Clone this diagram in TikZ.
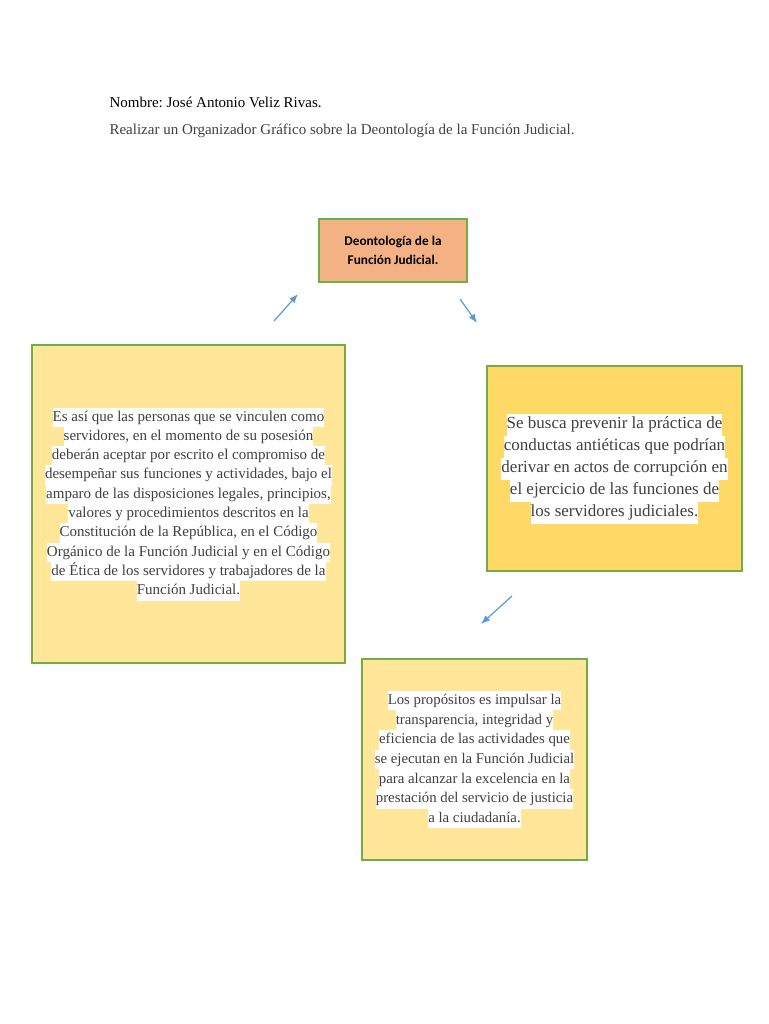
\documentclass[tikz,border=0pt]{standalone}
\usepackage{fontspec}
\setmainfont{Liberation Serif}
\newfontfamily\calibri{Carlito}
\usepackage{tikz}
\usetikzlibrary{arrows.meta}
\frenchspacing

\definecolor{boxgreen}{HTML}{70AD47}
\definecolor{salmon}{HTML}{F4B183}
\definecolor{paleyellow}{HTML}{FFE699}
\definecolor{goldyellow}{HTML}{FFD966}
\definecolor{arrowblue}{HTML}{5B9BD5}
\definecolor{textgray}{HTML}{404040}

\setlength{\fboxsep}{0pt}
\newcommand{\hl}[1]{\colorbox{white}{\strut #1}}

\tikzset{
  textbox/.style={draw=boxgreen, line width=1.4pt, rectangle, align=center,
    text=textgray, inner sep=0pt},
}

\begin{document}
\begin{tikzpicture}[>={Latex[length=9pt,width=7pt]}, x=1pt, y=-1pt]
  \useasboundingbox (0,0) rectangle (768,1024);
  \node[anchor=west, font=\fontsize{15}{18}\selectfont] (name) at (106,102) {Nombre: José Antonio Veliz Rivas.};
  \node[anchor=west, text=textgray, font=\fontsize{15}{18}\selectfont] (task) at (106,131) {Realizar un Organizador Gráfico sobre la Deontología de la Función Judicial.};
  \node[textbox, fill=salmon, minimum width=148pt, minimum height=63pt, text=black,
    font=\calibri\bfseries\fontsize{13.3}{19}\selectfont] (deonto) at (393,250.5)
    {Deontología de la\\Función Judicial.};
  \node[textbox, fill=paleyellow, minimum width=313pt, minimum height=318pt,
    font=\fontsize{15}{19.3}\selectfont] (vinculo) at (188.5,504)
    {\hl{Es así que las personas que se vinculen como}\\
     \hl{servidores, en el momento de su posesión}\\
     \hl{deberán aceptar por escrito el compromiso de}\\
     \hl{desempeñar sus funciones y actividades, bajo el}\\
     \hl{amparo de las disposiciones legales, principios,}\\
     \hl{valores y procedimientos descritos en la}\\
     \hl{Constitución de la República, en el Código}\\
     \hl{Orgánico de la Función Judicial y en el Código}\\
     \hl{de Ética de los servidores y trabajadores de la}\\
     \hl{Función Judicial.}};
  \node[textbox, fill=goldyellow, minimum width=255pt, minimum height=205pt,
    font=\fontsize{17}{22}\selectfont] (prevenir) at (614.5,468.5)
    {\hl{Se busca prevenir la práctica de}\\
     \hl{conductas antiéticas que podrían}\\
     \hl{derivar en actos de corrupción en}\\
     \hl{el ejercicio de las funciones de}\\
     \hl{los servidores judiciales.}};
  \node[textbox, fill=paleyellow, minimum width=225pt, minimum height=201pt,
    font=\fontsize{14.8}{19.7}\selectfont] (proposito) at (474.5,759.5)
    {\hl{Los propósitos es impulsar la}\\
     \hl{transparencia, integridad y}\\
     \hl{eficiencia de las actividades que}\\
     \hl{se ejecutan en la Función Judicial}\\
     \hl{para alcanzar la excelencia en la}\\
     \hl{prestación del servicio de justicia}\\
     \hl{a la ciudadanía.}};
  % arrows between the boxes
  \coordinate (up1) at (274,321);
  \coordinate (up2) at (298,294);
  \coordinate (dn1) at (460,299);
  \coordinate (dn2) at (477,323);
  \coordinate (lo1) at (512,596);
  \coordinate (lo2) at (481,624);
  \draw[->, arrowblue, line width=1.2pt] (up1) -- (up2);
  \draw[->, arrowblue, line width=1.2pt] (dn1) -- (dn2);
  \draw[->, arrowblue, line width=1.2pt] (lo1) -- (lo2);
\end{tikzpicture}
\end{document}
